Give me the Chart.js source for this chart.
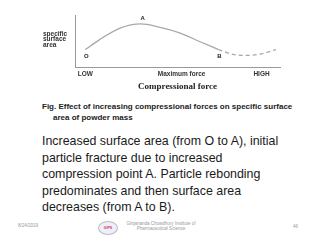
<!DOCTYPE html>
<html>
<head>
<meta charset="utf-8">
<script src="https://cdn.jsdelivr.net/npm/chart.js@4/dist/chart.umd.min.js"></script>
<style>
  html, body { margin:0; padding:0; background:#fff; }
  body { width:320px; height:240px; position:relative; overflow:hidden; font-family:"Liberation Sans", Arial, sans-serif; }
  #wrap { position:absolute; left:0; top:0; width:320px; height:94px; }
  .abs { position:absolute; white-space:nowrap; }
  #ylab { left:43px; top:30.5px; font-weight:bold; font-size:6.5px; line-height:5.6px; color:#333; }
  .cap { font-weight:bold; font-size:8px; color:#222; }
  .body { font-size:12.4px; color:#1a1a1a; }
  .foot { font-size:4.5px; color:#999; }
  #logo { left:98px; top:221px; width:18px; height:12px; border-radius:50%; border:1px solid #bbb; background:#eef; font-size:3.5px; font-weight:bold; color:#c33; text-align:center; line-height:12px; }
</style>
</head>
<body>
<div id="wrap"><canvas id="c" width="320" height="94"></canvas></div>
<div id="ylab" class="abs">specific<br>surface<br>area</div>
<div class="abs cap" style="left:42px;top:102px;">Fig. Effect of increasing compressional forces on specific surface</div>
<div class="abs cap" style="left:53px;top:113px;">area of powder mass</div>
<div class="abs body" style="left:42px;top:134px;">Increased surface area (from O to A), initial</div>
<div class="abs body" style="left:42px;top:150.5px;">particle fracture due to increased</div>
<div class="abs body" style="left:42px;top:167px;">compression point A. Particle rebonding</div>
<div class="abs body" style="left:42px;top:183.5px;">predominates and then surface area</div>
<div class="abs body" style="left:42px;top:200px;">decreases (from A to B).</div>
<div class="abs foot" style="left:18px;top:223px;">8/24/2019</div>
<div id="logo" class="abs">GIPS</div>
<div class="abs foot" style="left:120px;top:221px;text-align:center;width:82px;">Girijananda Chowdhury Institute of<br>Pharmaceutical Science</div>
<div class="abs foot" style="left:293px;top:224px;">46</div>
<script>
const forceX = [5, 12, 22, 32, 41, 51, 61, 70];
const solidSSA = [34, 53, 75, 83, 77, 66, 49, 34];
const dashX = [70, 77, 84, 91, 98];
const dashSSA = [34, 25, 23, 26, 34];
const tickPositions = [5, 52, 91];
const tickLabels = ['LOW', 'Maximum force', 'HIGH'];
const pointNames = ['O', 'A', 'B'];
const pointIndex = [0, 3, 7];

const solidData = forceX.map((x, i) => ({x: x, y: solidSSA[i]}));
const dashData = dashX.map((x, i) => ({x: x, y: dashSSA[i]}));

const labelOffsets = { O: [1, 7], A: [2, -6], B: [1, 7] };
const pointLabelPlugin = {
  id: 'pointLabels',
  afterDatasetsDraw(chart) {
    const meta = chart.getDatasetMeta(0);
    const ctx = chart.ctx;
    ctx.save();
    ctx.font = 'bold 6px "Liberation Sans", Arial, sans-serif';
    ctx.fillStyle = '#222';
    ctx.textAlign = 'center';
    ctx.textBaseline = 'middle';
    pointNames.forEach((n, i) => {
      const el = meta.data[pointIndex[i]];
      const off = labelOffsets[n];
      ctx.fillText(n, el.x + off[0], el.y + off[1]);
    });
    ctx.restore();
  }
};

new Chart(document.getElementById('c'), {
  type: 'line',
  data: {
    datasets: [
      { data: solidData, borderColor: '#a8a8a8', borderWidth: 1.3, pointRadius: 0, cubicInterpolationMode: 'monotone', fill: false },
      { data: dashData, borderColor: '#a8a8a8', borderWidth: 1.3, borderDash: [4, 3], pointRadius: 0, cubicInterpolationMode: 'monotone', fill: false }
    ]
  },
  options: {
    responsive: false,
    animation: false,
    events: [],
    layout: { padding: { left: 75, right: 40, top: 15, bottom: 0 } },
    plugins: { legend: { display: false }, tooltip: { enabled: false } },
    scales: {
      x: {
        type: 'linear', min: 0, max: 100,
        grid: { display: false, drawTicks: false },
        border: { display: true, color: '#999', width: 1 },
        afterBuildTicks: (axis) => { axis.ticks = tickPositions.map(v => ({ value: v })); },
        ticks: {
          autoSkip: false, maxRotation: 0, padding: 3,
          font: { family: '"Liberation Sans", Arial, sans-serif', size: 6.5, weight: 'bold', lineHeight: 1.2 },
          color: '#333',
          callback: (v, i) => tickLabels[i]
        },
        title: {
          display: true, text: 'Compressional force',
          font: { family: '"Liberation Serif", "Times New Roman", serif', size: 9, weight: 'bold', lineHeight: 1.2 },
          color: '#222', padding: { top: 0, bottom: 2 }
        }
      },
      y: {
        min: 0, max: 100,
        grid: { display: false, drawTicks: false },
        border: { display: true, color: '#999', width: 1 },
        ticks: { display: false }
      }
    }
  },
  plugins: [pointLabelPlugin]
});
</script>
</body>
</html>
